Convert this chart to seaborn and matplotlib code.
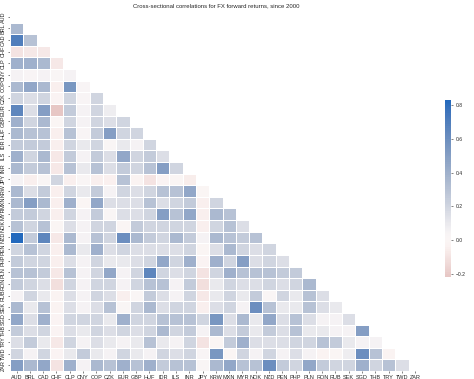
import numpy as np
import pandas as pd
import matplotlib
matplotlib.use("Agg")
import matplotlib.pyplot as plt
import seaborn as sns

currencies = ['AUD', 'BRL', 'CAD', 'CHF', 'CLP', 'CNY', 'COP', 'CZK', 'EUR', 'GBP',
              'HUF', 'IDR', 'ILS', 'INR', 'JPY', 'KRW', 'MXN', 'MYR', 'NOK', 'NZD',
              'PEN', 'PHP', 'PLN', 'RON', 'RUB', 'SEK', 'SGD', 'THB', 'TRY', 'TWD', 'ZAR']

# lower triangle, one list per row (correlation with the currencies listed before it)
aud = []
brl = [0.35]
cad = [0.70, 0.30]
chf = [-0.10, -0.08, -0.08]
clp = [0.40, 0.40, 0.35, -0.08]
cny = [0.05, 0.03, 0.05, 0.02, 0.05]
cop = [0.35, 0.45, 0.35, -0.05, 0.55, 0.03]
czk = [0.20, 0.15, 0.20, -0.02, 0.20, 0.03, 0.20]
eur = [0.65, 0.15, 0.50, -0.22, 0.25, 0.05, 0.20, 0.08]
gbp = [0.40, 0.20, 0.35, 0.00, 0.20, 0.05, 0.20, 0.15, 0.20]
huf = [0.35, 0.30, 0.30, -0.05, 0.30, 0.03, 0.25, 0.50, 0.20, 0.20]
idr = [0.25, 0.25, 0.25, -0.05, 0.20, 0.10, 0.20, 0.02, 0.10, 0.05, 0.20]
ils = [0.40, 0.20, 0.35, -0.08, 0.25, 0.05, 0.25, 0.15, 0.45, 0.20, 0.25, 0.15]
inr = [0.35, 0.25, 0.30, -0.08, 0.30, 0.10, 0.30, 0.15, 0.25, 0.20, 0.30, 0.50, 0.20]
jpy = [0.05, -0.05, 0.02, 0.20, -0.05, 0.02, -0.05, -0.04, 0.30, -0.03, -0.10, -0.02, 0.00, -0.06]
krw = [0.35, 0.15, 0.25, -0.05, 0.20, 0.10, 0.25, 0.05, 0.20, 0.15, 0.20, 0.30, 0.30, 0.45, 0.00]
mxn = [0.35, 0.50, 0.35, -0.05, 0.40, 0.00, 0.45, 0.15, 0.15, 0.15, 0.30, 0.15, 0.20, 0.25, -0.05,
       0.20]
myr = [0.25, 0.25, 0.20, -0.05, 0.20, 0.05, 0.25, 0.02, 0.15, 0.15, 0.20, 0.50, 0.30, 0.45, -0.05,
       0.35, 0.30]
nok = [0.30, 0.20, 0.30, 0.00, 0.15, 0.05, 0.20, 0.20, 0.00, 0.25, 0.20, 0.20, 0.20, 0.20, -0.05,
       0.20, 0.30, 0.15]
nzd = [0.83, 0.25, 0.65, -0.08, 0.35, 0.05, 0.30, 0.20, 0.60, 0.35, 0.25, 0.20, 0.35, 0.25, 0.05,
       0.35, 0.30, 0.25, 0.30]
pen = [0.20, 0.30, 0.20, -0.05, 0.35, 0.10, 0.40, 0.15, 0.20, 0.15, 0.15, 0.15, 0.15, 0.20, 0.00,
       0.15, 0.35, 0.20, 0.15, 0.20]
php = [0.25, 0.20, 0.20, -0.05, 0.15, 0.05, 0.20, 0.10, 0.10, 0.15, 0.20, 0.45, 0.20, 0.40, -0.02,
       0.40, 0.20, 0.50, 0.15, 0.20, 0.15]
pln = [0.30, 0.30, 0.25, -0.08, 0.30, 0.05, 0.20, 0.45, 0.05, 0.20, 0.65, 0.20, 0.15, 0.20, -0.10,
       0.20, 0.40, 0.30, 0.30, 0.30, 0.25, 0.25]
ron = [0.25, 0.20, 0.15, -0.12, 0.20, 0.05, 0.20, 0.20, 0.05, 0.20, 0.30, 0.30, 0.05, 0.25, -0.12,
       0.10, 0.20, 0.15, 0.15, 0.20, 0.15, 0.20, 0.35]
rub = [0.05, 0.20, 0.10, -0.03, 0.15, 0.05, 0.20, 0.15, -0.05, 0.02, 0.25, 0.15, 0.05, 0.20, -0.08,
       0.10, 0.20, 0.10, 0.25, 0.02, 0.20, 0.10, 0.30, 0.15]
sek = [0.35, 0.10, 0.30, -0.03, 0.15, 0.05, 0.15, 0.30, 0.02, 0.20, 0.35, 0.15, 0.20, 0.20, -0.05,
       0.15, 0.20, 0.05, 0.60, 0.30, 0.10, 0.10, 0.30, 0.15, 0.10]
sgd = [0.45, 0.15, 0.40, -0.02, 0.20, 0.20, 0.20, 0.10, 0.40, 0.20, 0.20, 0.30, 0.30, 0.30, 0.20,
       0.55, 0.15, 0.35, 0.10, 0.45, 0.15, 0.30, 0.15, 0.05, 0.05, 0.15]
thb = [0.25, 0.15, 0.20, -0.02, 0.15, 0.10, 0.20, 0.15, 0.20, 0.15, 0.20, 0.35, 0.20, 0.25, 0.05,
       0.35, 0.15, 0.25, 0.10, 0.25, 0.15, 0.30, 0.10, 0.10, 0.05, 0.05, 0.50]
try_ = [0.15, 0.25, 0.10, -0.08, 0.20, 0.05, 0.15, 0.10, 0.05, 0.10, 0.30, 0.10, 0.05, 0.20, -0.10,
        0.00, 0.25, 0.40, 0.15, 0.15, 0.15, 0.20, 0.20, 0.30, 0.25, 0.10, 0.05, 0.05]
twd = [0.20, 0.05, 0.20, -0.02, 0.10, 0.25, 0.10, 0.05, 0.20, 0.10, 0.05, 0.20, 0.15, 0.20, 0.03,
       0.55, 0.00, 0.20, 0.05, 0.20, 0.05, 0.15, 0.05, -0.03, 0.00, 0.08, 0.60, 0.30, -0.03]
zar = [0.50, 0.35, 0.45, -0.10, 0.40, 0.05, 0.35, 0.30, 0.40, 0.30, 0.40, 0.25, 0.30, 0.30, 0.02,
       0.35, 0.45, 0.30, 0.30, 0.60, 0.25, 0.20, 0.45, 0.25, 0.20, 0.20, 0.40, 0.20, 0.30, 0.15]

rows = [aud, brl, cad, chf, clp, cny, cop, czk, eur, gbp, huf, idr, ils, inr, jpy, krw,
        mxn, myr, nok, nzd, pen, php, pln, ron, rub, sek, sgd, thb, try_, twd, zar]

corr = np.eye(len(currencies))
for i, r in enumerate(rows):
    corr[i, :len(r)] = r
    corr[:len(r), i] = r
corr = pd.DataFrame(corr, index=currencies, columns=currencies)
mask = np.triu(np.ones_like(corr, dtype=bool))

sns.set_style('ticks')
plt.rcParams['font.family'] = ['Liberation Sans', 'DejaVu Sans']

fig = plt.figure(figsize=(4.74, 3.79), dpi=100)
ax = fig.add_axes([0.021, 0.021, 0.869, 0.950])
cax = fig.add_axes([0.939, 0.269, 0.0127, 0.467])

sns.heatmap(corr, mask=mask, cmap='vlag_r', center=0, linewidths=0.5, linecolor='white',
            xticklabels=True, yticklabels=True, ax=ax, cbar_ax=cax)

ax.set_title('Cross-sectional correlations for FX forward returns, since 2000', fontsize=4.3, pad=3)
ax.set_xlabel('')
ax.set_ylabel('')
ax.tick_params(labelsize=4, length=1.5, width=0.4, pad=1.5)
plt.setp(ax.get_xticklabels(), rotation=0)
plt.setp(ax.get_yticklabels(), rotation=90, va='center')
cax.tick_params(labelsize=3.6, length=1.5, width=0.4, pad=1.5)

fig.savefig('out.png', dpi=100)
